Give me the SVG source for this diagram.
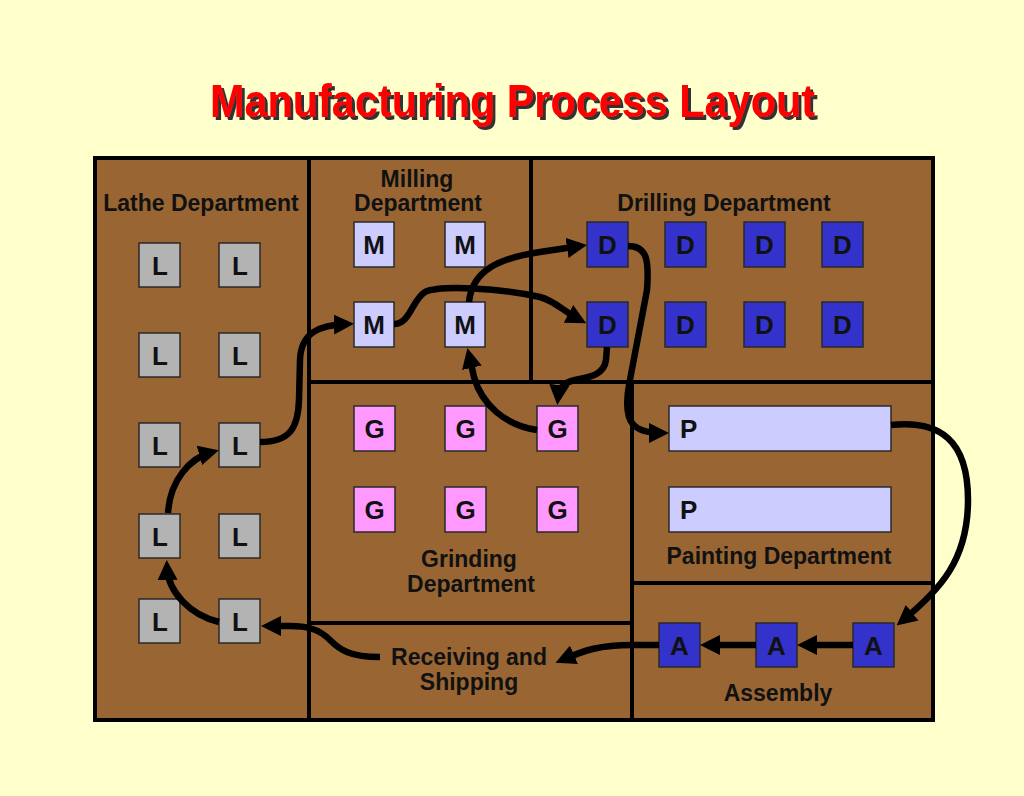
<svg xmlns="http://www.w3.org/2000/svg" width="1024" height="796" viewBox="0 0 1024 796">
<defs>
<marker id="ah" viewBox="0 0 10 10" refX="6.5" refY="5" markerWidth="3.1" markerHeight="3.1" orient="auto" markerUnits="strokeWidth">
<path d="M0,0 L10,5 L0,10 z" fill="#000"/>
</marker>
<filter id="shadow" x="-5%" y="-20%" width="110%" height="150%">
<feDropShadow dx="3" dy="3" stdDeviation="0.6" flood-color="#333333" flood-opacity="1"/>
</filter>
<style>
.lbl{font-family:"Liberation Sans",Arial,sans-serif;font-weight:bold;font-size:23px;fill:#111;text-anchor:middle}
.ltr{font-family:"Liberation Sans",Arial,sans-serif;font-weight:bold;font-size:26px;fill:#111;text-anchor:middle}
.box{stroke:#2a2a2a;stroke-width:1.5}
.L{fill:#B3B3B3}.M{fill:#CCCCFF}.D{fill:#3333CC}.G{fill:#FF99FF}.P{fill:#CCCCFF}.A{fill:#3333CC}
.wall{stroke:#000;stroke-width:4;fill:none}
.flow{stroke:#000;stroke-width:6.5;fill:none;marker-end:url(#ah)}
</style>
</defs>
<rect width="1024" height="796" fill="#FFFFCC"/>
<g id="title" font-family="'Liberation Sans Narrow','Liberation Sans',Arial,sans-serif" font-weight="bold" font-size="47">
<text x="210" y="117" fill="#FF0000" filter="url(#shadow)" textLength="605" lengthAdjust="spacingAndGlyphs">Manufacturing Process Layout</text>
</g>
<g id="floor">
<rect x="95" y="158" width="838" height="562" fill="#996633" stroke="#000" stroke-width="4"/>
<line class="wall" x1="309" y1="158" x2="309" y2="720"/>
<line class="wall" x1="531" y1="158" x2="531" y2="382"/>
<line class="wall" x1="309" y1="382" x2="933" y2="382"/>
<line class="wall" x1="632" y1="382" x2="632" y2="720"/>
<line class="wall" x1="632" y1="583" x2="933" y2="583"/>
<line class="wall" x1="309" y1="623" x2="632" y2="623"/>
</g>
<g id="labels">
<text class="lbl" x="201" y="211">Lathe Department</text>
<text class="lbl" x="417" y="187">Milling</text>
<text class="lbl" x="418" y="211">Department</text>
<text class="lbl" x="724" y="211">Drilling Department</text>
<text class="lbl" x="469" y="567">Grinding</text>
<text class="lbl" x="471" y="592">Department</text>
<text class="lbl" x="779" y="564">Painting Department</text>
<text class="lbl" x="469" y="665">Receiving and</text>
<text class="lbl" x="469" y="690">Shipping</text>
<text class="lbl" x="778" y="701">Assembly</text>
</g>
<g id="lathe">
<g id="L1"><rect class="box L" x="139" y="243" width="41" height="44"/><text class="ltr" x="160" y="275">L</text></g>
<g id="L2"><rect class="box L" x="219" y="243" width="41" height="44"/><text class="ltr" x="240" y="275">L</text></g>
<g id="L3"><rect class="box L" x="139" y="333" width="41" height="44"/><text class="ltr" x="160" y="365">L</text></g>
<g id="L4"><rect class="box L" x="219" y="333" width="41" height="44"/><text class="ltr" x="240" y="365">L</text></g>
<g id="L5"><rect class="box L" x="139" y="423" width="41" height="44"/><text class="ltr" x="160" y="455">L</text></g>
<g id="L6"><rect class="box L" x="219" y="423" width="41" height="44"/><text class="ltr" x="240" y="455">L</text></g>
<g id="L7"><rect class="box L" x="139" y="514" width="41" height="44"/><text class="ltr" x="160" y="546">L</text></g>
<g id="L8"><rect class="box L" x="219" y="514" width="41" height="44"/><text class="ltr" x="240" y="546">L</text></g>
<g id="L9"><rect class="box L" x="139" y="599" width="41" height="44"/><text class="ltr" x="160" y="631">L</text></g>
<g id="L10"><rect class="box L" x="219" y="599" width="41" height="44"/><text class="ltr" x="240" y="631">L</text></g>
</g>
<g id="milling">
<g id="M1"><rect class="box M" x="354" y="222" width="40" height="45"/><text class="ltr" x="374" y="254">M</text></g>
<g id="M2"><rect class="box M" x="445" y="222" width="40" height="45"/><text class="ltr" x="465" y="254">M</text></g>
<g id="M3"><rect class="box M" x="354" y="302" width="40" height="45"/><text class="ltr" x="374" y="334">M</text></g>
<g id="M4"><rect class="box M" x="445" y="302" width="40" height="45"/><text class="ltr" x="465" y="334">M</text></g>
</g>
<g id="drilling">
<g id="D1"><rect class="box D" x="587" y="222" width="41" height="45"/><text class="ltr" x="607.5" y="254">D</text></g>
<g id="D2"><rect class="box D" x="665" y="222" width="41" height="45"/><text class="ltr" x="685.5" y="254">D</text></g>
<g id="D3"><rect class="box D" x="744" y="222" width="41" height="45"/><text class="ltr" x="764.5" y="254">D</text></g>
<g id="D4"><rect class="box D" x="822" y="222" width="41" height="45"/><text class="ltr" x="842.5" y="254">D</text></g>
<g id="D5"><rect class="box D" x="587" y="302" width="41" height="45"/><text class="ltr" x="607.5" y="334">D</text></g>
<g id="D6"><rect class="box D" x="665" y="302" width="41" height="45"/><text class="ltr" x="685.5" y="334">D</text></g>
<g id="D7"><rect class="box D" x="744" y="302" width="41" height="45"/><text class="ltr" x="764.5" y="334">D</text></g>
<g id="D8"><rect class="box D" x="822" y="302" width="41" height="45"/><text class="ltr" x="842.5" y="334">D</text></g>
</g>
<g id="grinding">
<g id="G1"><rect class="box G" x="354" y="406" width="41" height="45"/><text class="ltr" x="374.5" y="438">G</text></g>
<g id="G2"><rect class="box G" x="445" y="406" width="41" height="45"/><text class="ltr" x="465.5" y="438">G</text></g>
<g id="G3"><rect class="box G" x="537" y="406" width="41" height="45"/><text class="ltr" x="557.5" y="438">G</text></g>
<g id="G4"><rect class="box G" x="354" y="487" width="41" height="45"/><text class="ltr" x="374.5" y="519">G</text></g>
<g id="G5"><rect class="box G" x="445" y="487" width="41" height="45"/><text class="ltr" x="465.5" y="519">G</text></g>
<g id="G6"><rect class="box G" x="537" y="487" width="41" height="45"/><text class="ltr" x="557.5" y="519">G</text></g>
</g>
<g id="painting">
<g id="P1"><rect class="box P" x="669" y="406" width="222" height="45"/><text class="ltr" x="680" y="438" style="text-anchor:start">P</text></g>
<g id="P2"><rect class="box P" x="669" y="487" width="222" height="45"/><text class="ltr" x="680" y="519" style="text-anchor:start">P</text></g>
</g>
<g id="assembly">
<g id="A1"><rect class="box A" x="659" y="623" width="41" height="44"/><text class="ltr" x="679.5" y="655">A</text></g>
<g id="A2"><rect class="box A" x="756" y="623" width="41" height="44"/><text class="ltr" x="776.5" y="655">A</text></g>
<g id="A3"><rect class="box A" x="853" y="623" width="41" height="44"/><text class="ltr" x="873.5" y="655">A</text></g>
</g>
<g id="connectors">
<path class="flow" d="M380,657 C350,657 340,650 330,640 C318,628 305,626 290,626 L268,626"/>
<path class="flow" d="M219,622 C190,615 168,592 167,567"/>
<path class="flow" d="M168,513 C170,480 190,458 212,452"/>
<path class="flow" d="M260,442 C290,442 298,428 299,400 L300,360 C301,332 320,325 347,324"/>
<path class="flow" d="M394,324 C410,324 412,300 425,292 C440,285 500,288 540,297 C555,301 565,312 580,320"/>
<path class="flow" d="M537,430 C505,425 482,405 474,377 L469,355"/>
<path class="flow" d="M469,302 C472,270 500,258 540,252 L580,246"/>
<path class="flow" d="M628,246 C648,246 649,262 647,290 L629,385 C622,425 635,433 662,433"/>
<path class="flow" d="M607,347 L606,360 C604,375 590,377 575,380 C563,383 559,388 558,398"/>
<path class="flow" d="M891,425 C940,420 968,440 968,500 C968,560 940,590 902,621"/>
<path class="flow" d="M853,645 L804,645"/>
<path class="flow" d="M756,645 L707,645"/>
<path class="flow" d="M659,645 L632,645 C600,645 585,650 562,660"/>
</g>
</svg>
